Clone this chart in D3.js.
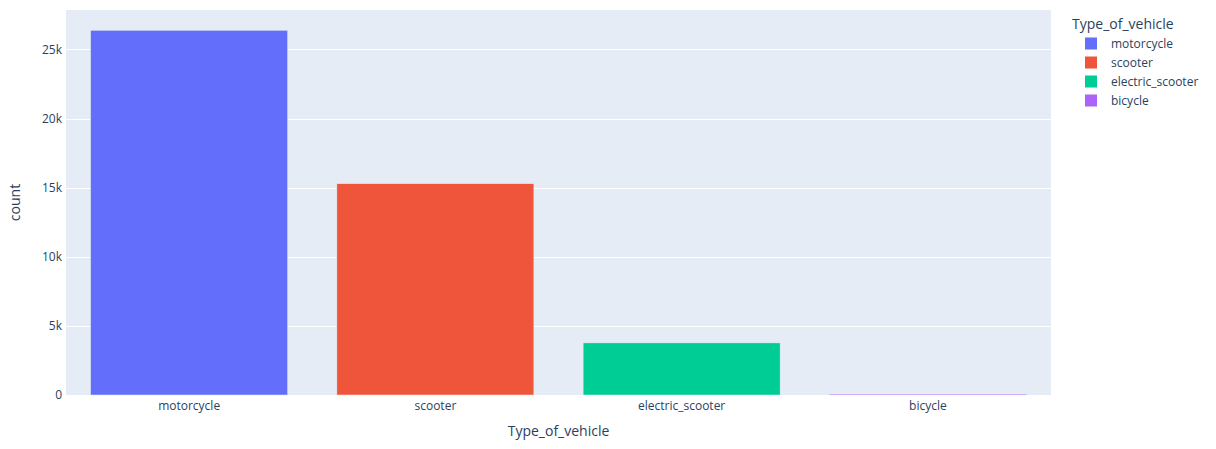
<!DOCTYPE html>
<html>
<head>
<meta charset="utf-8">
<script src="https://cdn.jsdelivr.net/npm/d3@7"></script>
<style>
  body { margin: 0; background: #fff; }
  svg { display: block; font-family: "Open Sans", verdana, arial, sans-serif; }
</style>
</head>
<body>
<svg id="chart" width="1216" height="449"></svg>
<script>
const categories = ["motorcycle", "scooter", "electric_scooter", "bicycle"];
const counts = [26390, 15290, 3770, 70];
const colors = ["#636efa", "#EF553B", "#00cc96", "#ab63fa"];
const yTicks = [0, 5000, 10000, 15000, 20000, 25000];
const yTickLabels = ["0", "5k", "10k", "15k", "20k", "25k"];
const xTitle = "Type_of_vehicle";
const yTitle = "count";
const legendTitle = "Type_of_vehicle";

const W = 1216, H = 449;
const m = { left: 66, right: 165, top: 10, bottom: 54 };
const pw = W - m.left - m.right, ph = H - m.top - m.bottom;
const textColor = "#2a3f5f";

const svg = d3.select("#chart");
const data = categories.map((c, i) => ({ cat: c, v: counts[i], color: colors[i] }));

const x = d3.scaleBand().domain(categories).range([0, pw]).paddingInner(0.2).paddingOuter(0.1);
const yMax = d3.max(counts) * 1.0556;
const y = d3.scaleLinear().domain([0, yMax]).range([ph, 0]);

const g = svg.append("g").attr("transform", `translate(${m.left},${m.top})`);
g.append("rect").attr("width", pw).attr("height", ph).attr("fill", "#E5ECF6");

// gridlines
g.append("g").selectAll("line").data(yTicks.slice(1)).join("line")
  .attr("x1", 0).attr("x2", pw)
  .attr("y1", d => Math.round(y(d)) + 0.5).attr("y2", d => Math.round(y(d)) + 0.5)
  .attr("stroke", "#fff").attr("stroke-width", 1);

// bars
g.append("g").selectAll("rect").data(data).join("rect")
  .attr("x", d => x(d.cat))
  .attr("width", x.bandwidth())
  .attr("y", d => y(d.v))
  .attr("height", d => ph - y(d.v))
  .attr("fill", d => d.color)
  .attr("stroke", "#E5ECF6").attr("stroke-width", 0.5);

// y axis
const yAxis = d3.axisLeft(y).tickValues(yTicks).tickFormat((d, i) => yTickLabels[i]).tickSize(0).tickPadding(4);
const ya = g.append("g").call(yAxis);
ya.select(".domain").remove();
ya.selectAll("text").attr("fill", textColor).attr("font-size", 12)
  .attr("font-family", '"Open Sans", verdana, arial, sans-serif');

// x axis
const xAxis = d3.axisBottom(x).tickSize(0).tickPadding(6);
const xa = g.append("g").attr("transform", `translate(0,${ph})`).call(xAxis);
xa.select(".domain").remove();
xa.selectAll("text").attr("fill", textColor).attr("font-size", 12)
  .attr("font-family", '"Open Sans", verdana, arial, sans-serif');

// axis titles
svg.append("text").attr("x", m.left + pw / 2).attr("y", 436)
  .attr("text-anchor", "middle").attr("fill", textColor).attr("font-size", 14).text(xTitle);
svg.append("text").attr("transform", `translate(20,${m.top + ph / 2}) rotate(-90)`)
  .attr("text-anchor", "middle").attr("fill", textColor).attr("font-size", 14).text(yTitle);

// legend
const lg = svg.append("g").attr("transform", "translate(1072,0)");
lg.append("text").attr("x", 0).attr("y", 29).attr("fill", textColor).attr("font-size", 14).text(legendTitle);
const items = lg.selectAll("g.item").data(data).join("g").attr("class", "item")
  .attr("transform", (d, i) => `translate(0,${43.5 + i * 19})`);
items.append("rect").attr("x", 13).attr("y", -6).attr("width", 12).attr("height", 12)
  .attr("fill", d => d.color);
items.append("text").attr("x", 39).attr("y", 4.5).attr("fill", textColor).attr("font-size", 12).text(d => d.cat);
</script>
</body>
</html>
